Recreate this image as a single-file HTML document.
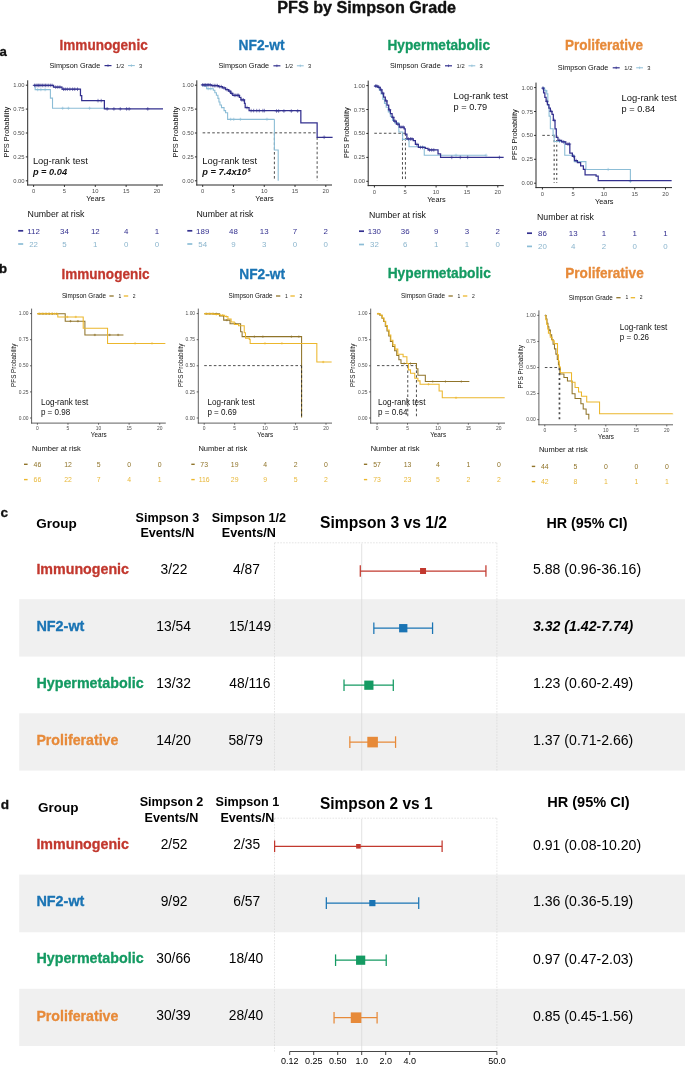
<!DOCTYPE html>
<html lang="en"><head><meta charset="utf-8"><title>PFS by Simpson Grade</title>
<style>
html,body{margin:0;padding:0;background:#fff;}
body{width:685px;height:1065px;overflow:hidden;}
svg{display:block;font-family:"Liberation Sans",Arial,Helvetica,sans-serif;}
</style></head><body>
<svg width="685" height="1065" viewBox="0 0 685 1065">
<rect width="685" height="1065" fill="#ffffff"/>
<text x="277.30" y="13.20" font-size="16.00" fill="#111" font-weight="bold" stroke="#111" stroke-width="0.35" stroke-linejoin="round" textLength="178.70" lengthAdjust="spacingAndGlyphs">PFS by Simpson Grade</text>
<text x="-0.60" y="55.60" font-size="13.20" fill="#111" font-weight="bold" stroke="#111" stroke-width="0.30" stroke-linejoin="round">a</text>
<text x="-0.90" y="272.80" font-size="13.20" fill="#111" font-weight="bold" stroke="#111" stroke-width="0.30" stroke-linejoin="round">b</text>
<text x="0.40" y="517.30" font-size="13.60" fill="#111" font-weight="bold" stroke="#111" stroke-width="0.30" stroke-linejoin="round">c</text>
<text x="0.70" y="809.00" font-size="13.60" fill="#111" font-weight="bold" stroke="#111" stroke-width="0.30" stroke-linejoin="round">d</text>
<text x="59.50" y="49.68" font-size="14.00" fill="#c2382e" font-weight="bold" stroke="#c2382e" stroke-width="0.30" stroke-linejoin="round" textLength="88.20" lengthAdjust="spacingAndGlyphs">Immunogenic</text>
<text x="238.50" y="49.68" font-size="14.00" fill="#1a74b4" font-weight="bold" stroke="#1a74b4" stroke-width="0.30" stroke-linejoin="round" textLength="46.00" lengthAdjust="spacingAndGlyphs">NF2-wt</text>
<text x="387.50" y="49.68" font-size="14.00" fill="#149a62" font-weight="bold" stroke="#149a62" stroke-width="0.30" stroke-linejoin="round" textLength="102.50" lengthAdjust="spacingAndGlyphs">Hypermetabolic</text>
<text x="565.00" y="49.68" font-size="14.00" fill="#e78a39" font-weight="bold" stroke="#e78a39" stroke-width="0.30" stroke-linejoin="round" textLength="78.00" lengthAdjust="spacingAndGlyphs">Proliferative</text>
<line x1="27.70" y1="80.30" x2="27.70" y2="185.50" stroke="#2b2b2b" stroke-width="1.00"/>
<line x1="27.20" y1="185.00" x2="163.00" y2="185.00" stroke="#2b2b2b" stroke-width="1.00"/>
<line x1="25.80" y1="85.20" x2="27.70" y2="85.20" stroke="#2b2b2b" stroke-width="1.00"/>
<text x="24.60" y="87.22" font-size="5.85" fill="#4d4d4d" text-anchor="end">1.00</text>
<line x1="25.80" y1="109.10" x2="27.70" y2="109.10" stroke="#2b2b2b" stroke-width="1.00"/>
<text x="24.60" y="111.12" font-size="5.85" fill="#4d4d4d" text-anchor="end">0.75</text>
<line x1="25.80" y1="133.00" x2="27.70" y2="133.00" stroke="#2b2b2b" stroke-width="1.00"/>
<text x="24.60" y="135.02" font-size="5.85" fill="#4d4d4d" text-anchor="end">0.50</text>
<line x1="25.80" y1="156.90" x2="27.70" y2="156.90" stroke="#2b2b2b" stroke-width="1.00"/>
<text x="24.60" y="158.92" font-size="5.85" fill="#4d4d4d" text-anchor="end">0.25</text>
<line x1="25.80" y1="180.80" x2="27.70" y2="180.80" stroke="#2b2b2b" stroke-width="1.00"/>
<text x="24.60" y="182.82" font-size="5.85" fill="#4d4d4d" text-anchor="end">0.00</text>
<line x1="33.60" y1="185.00" x2="33.60" y2="186.90" stroke="#2b2b2b" stroke-width="1.00"/>
<text x="33.60" y="193.22" font-size="5.85" fill="#4d4d4d" text-anchor="middle">0</text>
<line x1="64.45" y1="185.00" x2="64.45" y2="186.90" stroke="#2b2b2b" stroke-width="1.00"/>
<text x="64.45" y="193.22" font-size="5.85" fill="#4d4d4d" text-anchor="middle">5</text>
<line x1="95.30" y1="185.00" x2="95.30" y2="186.90" stroke="#2b2b2b" stroke-width="1.00"/>
<text x="95.30" y="193.22" font-size="5.85" fill="#4d4d4d" text-anchor="middle">10</text>
<line x1="126.15" y1="185.00" x2="126.15" y2="186.90" stroke="#2b2b2b" stroke-width="1.00"/>
<text x="126.15" y="193.22" font-size="5.85" fill="#4d4d4d" text-anchor="middle">15</text>
<line x1="157.00" y1="185.00" x2="157.00" y2="186.90" stroke="#2b2b2b" stroke-width="1.00"/>
<text x="157.00" y="193.22" font-size="5.85" fill="#4d4d4d" text-anchor="middle">20</text>
<text x="95.60" y="200.94" font-size="7.35" fill="#111" text-anchor="middle">Years</text>
<text transform="translate(8.54 132.20) rotate(-90)" font-size="7.35" fill="#111" text-anchor="middle">PFS Probability</text>
<line x1="196.80" y1="80.30" x2="196.80" y2="185.50" stroke="#2b2b2b" stroke-width="1.00"/>
<line x1="196.30" y1="185.00" x2="332.00" y2="185.00" stroke="#2b2b2b" stroke-width="1.00"/>
<line x1="194.90" y1="85.20" x2="196.80" y2="85.20" stroke="#2b2b2b" stroke-width="1.00"/>
<text x="193.70" y="87.22" font-size="5.85" fill="#4d4d4d" text-anchor="end">1.00</text>
<line x1="194.90" y1="109.10" x2="196.80" y2="109.10" stroke="#2b2b2b" stroke-width="1.00"/>
<text x="193.70" y="111.12" font-size="5.85" fill="#4d4d4d" text-anchor="end">0.75</text>
<line x1="194.90" y1="133.00" x2="196.80" y2="133.00" stroke="#2b2b2b" stroke-width="1.00"/>
<text x="193.70" y="135.02" font-size="5.85" fill="#4d4d4d" text-anchor="end">0.50</text>
<line x1="194.90" y1="156.90" x2="196.80" y2="156.90" stroke="#2b2b2b" stroke-width="1.00"/>
<text x="193.70" y="158.92" font-size="5.85" fill="#4d4d4d" text-anchor="end">0.25</text>
<line x1="194.90" y1="180.80" x2="196.80" y2="180.80" stroke="#2b2b2b" stroke-width="1.00"/>
<text x="193.70" y="182.82" font-size="5.85" fill="#4d4d4d" text-anchor="end">0.00</text>
<line x1="202.70" y1="185.00" x2="202.70" y2="186.90" stroke="#2b2b2b" stroke-width="1.00"/>
<text x="202.70" y="193.22" font-size="5.85" fill="#4d4d4d" text-anchor="middle">0</text>
<line x1="233.47" y1="185.00" x2="233.47" y2="186.90" stroke="#2b2b2b" stroke-width="1.00"/>
<text x="233.47" y="193.22" font-size="5.85" fill="#4d4d4d" text-anchor="middle">5</text>
<line x1="264.25" y1="185.00" x2="264.25" y2="186.90" stroke="#2b2b2b" stroke-width="1.00"/>
<text x="264.25" y="193.22" font-size="5.85" fill="#4d4d4d" text-anchor="middle">10</text>
<line x1="295.02" y1="185.00" x2="295.02" y2="186.90" stroke="#2b2b2b" stroke-width="1.00"/>
<text x="295.02" y="193.22" font-size="5.85" fill="#4d4d4d" text-anchor="middle">15</text>
<line x1="325.80" y1="185.00" x2="325.80" y2="186.90" stroke="#2b2b2b" stroke-width="1.00"/>
<text x="325.80" y="193.22" font-size="5.85" fill="#4d4d4d" text-anchor="middle">20</text>
<text x="264.55" y="200.94" font-size="7.35" fill="#111" text-anchor="middle">Years</text>
<text transform="translate(177.64 132.20) rotate(-90)" font-size="7.35" fill="#111" text-anchor="middle">PFS Probability</text>
<line x1="368.20" y1="80.60" x2="368.20" y2="186.10" stroke="#2b2b2b" stroke-width="1.00"/>
<line x1="367.70" y1="185.60" x2="503.80" y2="185.60" stroke="#2b2b2b" stroke-width="1.00"/>
<line x1="366.30" y1="85.60" x2="368.20" y2="85.60" stroke="#2b2b2b" stroke-width="1.00"/>
<text x="365.10" y="87.62" font-size="5.85" fill="#4d4d4d" text-anchor="end">1.00</text>
<line x1="366.30" y1="109.53" x2="368.20" y2="109.53" stroke="#2b2b2b" stroke-width="1.00"/>
<text x="365.10" y="111.54" font-size="5.85" fill="#4d4d4d" text-anchor="end">0.75</text>
<line x1="366.30" y1="133.45" x2="368.20" y2="133.45" stroke="#2b2b2b" stroke-width="1.00"/>
<text x="365.10" y="135.47" font-size="5.85" fill="#4d4d4d" text-anchor="end">0.50</text>
<line x1="366.30" y1="157.38" x2="368.20" y2="157.38" stroke="#2b2b2b" stroke-width="1.00"/>
<text x="365.10" y="159.39" font-size="5.85" fill="#4d4d4d" text-anchor="end">0.25</text>
<line x1="366.30" y1="181.30" x2="368.20" y2="181.30" stroke="#2b2b2b" stroke-width="1.00"/>
<text x="365.10" y="183.32" font-size="5.85" fill="#4d4d4d" text-anchor="end">0.00</text>
<line x1="374.40" y1="185.60" x2="374.40" y2="187.50" stroke="#2b2b2b" stroke-width="1.00"/>
<text x="374.40" y="193.82" font-size="5.85" fill="#4d4d4d" text-anchor="middle">0</text>
<line x1="405.25" y1="185.60" x2="405.25" y2="187.50" stroke="#2b2b2b" stroke-width="1.00"/>
<text x="405.25" y="193.82" font-size="5.85" fill="#4d4d4d" text-anchor="middle">5</text>
<line x1="436.10" y1="185.60" x2="436.10" y2="187.50" stroke="#2b2b2b" stroke-width="1.00"/>
<text x="436.10" y="193.82" font-size="5.85" fill="#4d4d4d" text-anchor="middle">10</text>
<line x1="466.95" y1="185.60" x2="466.95" y2="187.50" stroke="#2b2b2b" stroke-width="1.00"/>
<text x="466.95" y="193.82" font-size="5.85" fill="#4d4d4d" text-anchor="middle">15</text>
<line x1="497.80" y1="185.60" x2="497.80" y2="187.50" stroke="#2b2b2b" stroke-width="1.00"/>
<text x="497.80" y="193.82" font-size="5.85" fill="#4d4d4d" text-anchor="middle">20</text>
<text x="436.40" y="201.54" font-size="7.35" fill="#111" text-anchor="middle">Years</text>
<text transform="translate(349.04 132.65) rotate(-90)" font-size="7.35" fill="#111" text-anchor="middle">PFS Probability</text>
<line x1="536.00" y1="82.60" x2="536.00" y2="188.10" stroke="#2b2b2b" stroke-width="1.00"/>
<line x1="535.50" y1="187.60" x2="672.00" y2="187.60" stroke="#2b2b2b" stroke-width="1.00"/>
<line x1="534.10" y1="87.60" x2="536.00" y2="87.60" stroke="#2b2b2b" stroke-width="1.00"/>
<text x="532.90" y="89.62" font-size="5.85" fill="#4d4d4d" text-anchor="end">1.00</text>
<line x1="534.10" y1="111.50" x2="536.00" y2="111.50" stroke="#2b2b2b" stroke-width="1.00"/>
<text x="532.90" y="113.52" font-size="5.85" fill="#4d4d4d" text-anchor="end">0.75</text>
<line x1="534.10" y1="135.40" x2="536.00" y2="135.40" stroke="#2b2b2b" stroke-width="1.00"/>
<text x="532.90" y="137.42" font-size="5.85" fill="#4d4d4d" text-anchor="end">0.50</text>
<line x1="534.10" y1="159.30" x2="536.00" y2="159.30" stroke="#2b2b2b" stroke-width="1.00"/>
<text x="532.90" y="161.32" font-size="5.85" fill="#4d4d4d" text-anchor="end">0.25</text>
<line x1="534.10" y1="183.20" x2="536.00" y2="183.20" stroke="#2b2b2b" stroke-width="1.00"/>
<text x="532.90" y="185.22" font-size="5.85" fill="#4d4d4d" text-anchor="end">0.00</text>
<line x1="542.40" y1="187.60" x2="542.40" y2="189.50" stroke="#2b2b2b" stroke-width="1.00"/>
<text x="542.40" y="195.82" font-size="5.85" fill="#4d4d4d" text-anchor="middle">0</text>
<line x1="573.17" y1="187.60" x2="573.17" y2="189.50" stroke="#2b2b2b" stroke-width="1.00"/>
<text x="573.17" y="195.82" font-size="5.85" fill="#4d4d4d" text-anchor="middle">5</text>
<line x1="603.95" y1="187.60" x2="603.95" y2="189.50" stroke="#2b2b2b" stroke-width="1.00"/>
<text x="603.95" y="195.82" font-size="5.85" fill="#4d4d4d" text-anchor="middle">10</text>
<line x1="634.73" y1="187.60" x2="634.73" y2="189.50" stroke="#2b2b2b" stroke-width="1.00"/>
<text x="634.73" y="195.82" font-size="5.85" fill="#4d4d4d" text-anchor="middle">15</text>
<line x1="665.50" y1="187.60" x2="665.50" y2="189.50" stroke="#2b2b2b" stroke-width="1.00"/>
<text x="665.50" y="195.82" font-size="5.85" fill="#4d4d4d" text-anchor="middle">20</text>
<text x="604.25" y="203.54" font-size="7.35" fill="#111" text-anchor="middle">Years</text>
<text transform="translate(516.84 134.60) rotate(-90)" font-size="7.35" fill="#111" text-anchor="middle">PFS Probability</text>
<text x="49.50" y="68.12" font-size="7.30" fill="#111">Simpson Grade</text>
<line x1="104.50" y1="65.60" x2="111.50" y2="65.60" stroke="#33308f" stroke-width="1.20"/>
<line x1="128.00" y1="65.60" x2="134.80" y2="65.60" stroke="#8cbdd6" stroke-width="1.00"/>
<line x1="108.00" y1="64.30" x2="108.00" y2="66.90" stroke="#33308f" stroke-width="0.70"/>
<line x1="131.40" y1="64.30" x2="131.40" y2="66.90" stroke="#8cbdd6" stroke-width="0.70"/>
<text x="116.10" y="67.60" font-size="5.80" fill="#222">1/2</text>
<text x="139.10" y="67.60" font-size="5.80" fill="#222">3</text>
<text x="218.40" y="68.32" font-size="7.30" fill="#111">Simpson Grade</text>
<line x1="273.40" y1="65.80" x2="280.40" y2="65.80" stroke="#33308f" stroke-width="1.20"/>
<line x1="296.90" y1="65.80" x2="303.70" y2="65.80" stroke="#8cbdd6" stroke-width="1.00"/>
<line x1="276.90" y1="64.50" x2="276.90" y2="67.10" stroke="#33308f" stroke-width="0.70"/>
<line x1="300.30" y1="64.50" x2="300.30" y2="67.10" stroke="#8cbdd6" stroke-width="0.70"/>
<text x="285.00" y="67.80" font-size="5.80" fill="#222">1/2</text>
<text x="308.00" y="67.80" font-size="5.80" fill="#222">3</text>
<text x="390.00" y="68.32" font-size="7.30" fill="#111">Simpson Grade</text>
<line x1="445.00" y1="65.80" x2="452.00" y2="65.80" stroke="#33308f" stroke-width="1.20"/>
<line x1="468.50" y1="65.80" x2="475.30" y2="65.80" stroke="#8cbdd6" stroke-width="1.00"/>
<line x1="448.50" y1="64.50" x2="448.50" y2="67.10" stroke="#33308f" stroke-width="0.70"/>
<line x1="471.90" y1="64.50" x2="471.90" y2="67.10" stroke="#8cbdd6" stroke-width="0.70"/>
<text x="456.60" y="67.80" font-size="5.80" fill="#222">1/2</text>
<text x="479.60" y="67.80" font-size="5.80" fill="#222">3</text>
<text x="557.70" y="70.32" font-size="7.30" fill="#111">Simpson Grade</text>
<line x1="612.70" y1="67.80" x2="619.70" y2="67.80" stroke="#33308f" stroke-width="1.20"/>
<line x1="636.20" y1="67.80" x2="643.00" y2="67.80" stroke="#8cbdd6" stroke-width="1.00"/>
<line x1="616.20" y1="66.50" x2="616.20" y2="69.10" stroke="#33308f" stroke-width="0.70"/>
<line x1="639.60" y1="66.50" x2="639.60" y2="69.10" stroke="#8cbdd6" stroke-width="0.70"/>
<text x="624.30" y="69.80" font-size="5.80" fill="#222">1/2</text>
<text x="647.30" y="69.80" font-size="5.80" fill="#222">3</text>
<path d="M33.47 85.41H35.16V89.64H50.40V98.11H52.52V108.27H108.62" fill="none" stroke="#8cbdd6" stroke-width="1.10" stroke-linejoin="miter"/>
<path d="M37.70 88.04V91.24M36.10 89.64H39.30M40.88 88.04V91.24M39.28 89.64H42.48M45.11 88.04V91.24M43.51 89.64H46.71M62.68 106.67V109.87M61.08 108.27H64.28M68.40 106.67V109.87M66.80 108.27H70.00M89.56 106.67V109.87M87.96 108.27H91.16" fill="none" stroke="#8cbdd6" stroke-width="0.6"/>
<path d="M33.47 85.41H53.58V87.10H62.04V89.22H80.46V95.57H81.73V100.65H104.38V108.91H163.02" fill="none" stroke="#33308f" stroke-width="1.25" stroke-linejoin="miter"/>
<path d="M34.53 83.61V87.21M32.73 85.41H36.33M36.01 83.61V87.21M34.21 85.41H37.81M37.28 83.61V87.21M35.48 85.41H39.08M38.55 83.61V87.21M36.75 85.41H40.35M39.82 83.61V87.21M38.02 85.41H41.62M41.09 83.61V87.21M39.29 85.41H42.89M42.57 83.61V87.21M40.77 85.41H44.37M44.05 83.61V87.21M42.25 85.41H45.85M45.53 83.61V87.21M43.73 85.41H47.33M47.02 83.61V87.21M45.22 85.41H48.82M48.71 83.61V87.21M46.91 85.41H50.51M50.40 83.61V87.21M48.60 85.41H52.20M52.10 83.61V87.21M50.30 85.41H53.90M55.69 85.30V88.90M53.89 87.10H57.49M57.81 85.30V88.90M56.01 87.10H59.61M59.93 85.30V88.90M58.13 87.10H61.73M63.53 87.42V91.02M61.73 89.22H65.33M65.22 87.42V91.02M63.42 89.22H67.02M67.34 87.42V91.02M65.54 89.22H69.14M69.88 87.42V91.02M68.08 89.22H71.68M72.63 87.42V91.02M70.83 89.22H74.43M74.75 87.42V91.02M72.95 89.22H76.55M77.50 87.42V91.02M75.70 89.22H79.30M98.03 98.85V102.45M96.23 100.65H99.83M101.21 98.85V102.45M99.41 100.65H103.01M107.13 107.11V110.71M105.33 108.91H108.93M113.91 107.11V110.71M112.11 108.91H115.71M120.26 107.11V110.71M118.46 108.91H122.06M126.61 107.11V110.71M124.81 108.91H128.41M129.15 107.11V110.71M127.35 108.91H130.95M147.78 107.11V110.71M145.98 108.91H149.58" fill="none" stroke="#33308f" stroke-width="0.6"/>
<text x="32.90" y="164.24" font-size="9.40" fill="#111" textLength="54.90" lengthAdjust="spacingAndGlyphs">Log-rank test</text>
<text x="32.90" y="175.04" font-size="9.40" fill="#111" font-weight="bold" font-style="italic" textLength="34.20" lengthAdjust="spacingAndGlyphs">p = 0.04</text>
<line x1="202.62" y1="132.83" x2="317.14" y2="132.83" stroke="#222" stroke-width="0.80" stroke-dasharray="2.6 2.2"/>
<line x1="274.38" y1="132.83" x2="274.38" y2="180.67" stroke="#222" stroke-width="0.80" stroke-dasharray="2.6 2.2"/>
<line x1="317.14" y1="137.27" x2="317.14" y2="180.67" stroke="#222" stroke-width="0.80" stroke-dasharray="2.6 2.2"/>
<path d="M201.58 84.90H204.13V86.13H206.68V88.68H213.32V90.21H214.85V92.77H216.39V95.32H217.92V98.39H218.94V101.96H219.96V105.03H221.49V107.58H224.05V110.64H225.58V112.69H227.62V119.33H274.38V119.28V149.97H278.19V180.67" fill="none" stroke="#8cbdd6" stroke-width="1.10" stroke-linejoin="miter"/>
<path d="M208.21 87.08V90.28M206.61 88.68H209.81M210.77 87.08V90.28M209.17 88.68H212.37M230.69 117.73V120.93M229.09 119.33H232.29M233.75 117.73V120.93M232.15 119.33H235.35M240.39 117.73V120.93M238.79 119.33H241.99M266.97 117.68V120.88M265.37 119.28H268.57" fill="none" stroke="#8cbdd6" stroke-width="0.6"/>
<path d="M201.58 84.90H211.28V85.62H218.43V86.64H222.51V87.97H225.58V89.70H228.64V91.24H230.69V93.28H232.73V95.32H239.37V97.36H240.90V99.92H244.48V103.49H245.19V107.58H249.07V110.64H300.84V111.02V122.88H317.14V137.27H332.60" fill="none" stroke="#33308f" stroke-width="1.25" stroke-linejoin="miter"/>
<path d="M202.60 83.10V86.70M200.80 84.90H204.40M204.13 83.10V86.70M202.33 84.90H205.93M205.66 83.10V86.70M203.86 84.90H207.46M207.19 83.10V86.70M205.39 84.90H208.99M208.73 83.10V86.70M206.93 84.90H210.53M210.26 83.10V86.70M208.46 84.90H212.06M212.81 83.82V87.42M211.01 85.62H214.61M214.34 83.82V87.42M212.54 85.62H216.14M215.88 83.82V87.42M214.08 85.62H217.68M217.41 83.82V87.42M215.61 85.62H219.21M219.65 84.84V88.44M217.85 86.64H221.45M221.29 84.84V88.44M219.49 86.64H223.09M224.05 86.17V89.77M222.25 87.97H225.85M227.11 87.90V91.50M225.31 89.70H228.91M229.66 89.44V93.04M227.86 91.24H231.46M231.71 91.48V95.08M229.91 93.28H233.51M234.26 93.52V97.12M232.46 95.32H236.06M235.79 93.52V97.12M233.99 95.32H237.59M237.33 93.52V97.12M235.53 95.32H239.13M238.65 93.52V97.12M236.85 95.32H240.45M241.92 98.12V101.72M240.12 99.92H243.72M243.45 98.12V101.72M241.65 99.92H245.25M247.03 105.78V109.38M245.23 107.58H248.83M251.12 108.84V112.44M249.32 110.64H252.92M253.67 108.84V112.44M251.87 110.64H255.47M256.73 108.84V112.44M254.93 110.64H258.53M259.29 108.84V112.44M257.49 110.64H261.09M262.86 108.84V112.44M261.06 110.64H264.66M264.39 108.84V112.44M262.59 110.64H266.19M276.50 109.22V112.82M274.70 111.02H278.30M278.62 109.22V112.82M276.82 111.02H280.42M283.91 109.22V112.82M282.11 111.02H285.71M291.32 109.22V112.82M289.52 111.02H293.12M297.67 109.22V112.82M295.87 111.02H299.47M324.13 135.47V139.07M322.33 137.27H325.93" fill="none" stroke="#33308f" stroke-width="0.6"/>
<text x="202.20" y="164.24" font-size="9.40" fill="#111" textLength="54.90" lengthAdjust="spacingAndGlyphs">Log-rank test</text>
<text x="202.20" y="175.21" font-size="9.30" fill="#111" font-weight="bold" font-style="italic">p = 7.4x10</text>
<text x="246.03" y="171.60" font-size="5.00" fill="#111" font-weight="bold" font-style="italic">-5</text>
<line x1="374.31" y1="133.25" x2="405.22" y2="133.25" stroke="#222" stroke-width="0.80" stroke-dasharray="2.6 2.2"/>
<line x1="402.47" y1="133.25" x2="402.47" y2="181.09" stroke="#222" stroke-width="0.80" stroke-dasharray="2.6 2.2"/>
<line x1="405.43" y1="133.25" x2="405.43" y2="181.09" stroke="#222" stroke-width="0.80" stroke-dasharray="2.6 2.2"/>
<path d="M374.31 86.04H377.28V87.53H379.39V90.28H381.09V93.88H382.78V99.17H384.48V103.40H386.17V107.21H388.29V111.87H390.40V116.53H392.52V120.34H394.64V122.88H398.87V131.98H402.68V139.39H409.03V146.80H424.27V155.27H486.08" fill="none" stroke="#8cbdd6" stroke-width="1.10" stroke-linejoin="miter"/>
<path d="M456.02 153.67V156.87M454.42 155.27H457.62M486.08 153.67V156.87M484.48 155.27H487.68" fill="none" stroke="#8cbdd6" stroke-width="0.6"/>
<path d="M374.31 86.04H378.12V87.31H380.24V89.85H381.93V93.24H383.63V97.05H385.32V100.86H387.02V105.10H388.71V109.75H390.40V113.56H392.10V117.37H393.79V121.18H396.33V124.15H399.29V127.11H404.16V128.80H405.22V134.10H406.91V138.97H413.26V140.66H415.38V144.47H418.34V147.43H425.33V148.49H428.08V149.97H438.03V153.78H440.57V157.38H503.65" fill="none" stroke="#33308f" stroke-width="1.25" stroke-linejoin="miter"/>
<path d="M375.58 84.24V87.84M373.78 86.04H377.38M376.85 84.24V87.84M375.05 86.04H378.65M378.97 85.51V89.11M377.17 87.31H380.77M381.09 88.05V91.65M379.29 89.85H382.89M382.78 91.44V95.04M380.98 93.24H384.58M386.17 99.06V102.66M384.37 100.86H387.97M389.56 107.95V111.55M387.76 109.75H391.36M392.94 115.57V119.17M391.14 117.37H394.74M395.06 119.38V122.98M393.26 121.18H396.86M397.81 122.35V125.95M396.01 124.15H399.61M400.99 125.31V128.91M399.19 127.11H402.79M403.10 125.31V128.91M401.30 127.11H404.90M408.40 137.17V140.77M406.60 138.97H410.20M410.51 137.17V140.77M408.71 138.97H412.31M411.99 137.17V140.77M410.19 138.97H413.79M416.86 142.67V146.27M415.06 144.47H418.66M420.46 145.63V149.23M418.66 147.43H422.26M422.58 145.63V149.23M420.78 147.43H424.38M429.56 148.17V151.77M427.76 149.97H431.36M431.68 148.17V151.77M429.88 149.97H433.48M433.80 148.17V151.77M432.00 149.97H435.60M451.79 155.58V159.18M449.99 157.38H453.59M460.26 155.58V159.18M458.46 157.38H462.06M467.67 155.58V159.18M465.87 157.38H469.47M499.42 155.58V159.18M497.62 157.38H501.22" fill="none" stroke="#33308f" stroke-width="0.6"/>
<text x="453.60" y="98.64" font-size="9.40" fill="#111" textLength="54.60" lengthAdjust="spacingAndGlyphs">Log-rank test</text>
<text x="453.60" y="109.84" font-size="9.40" fill="#111" textLength="33.60" lengthAdjust="spacingAndGlyphs">p = 0.79</text>
<line x1="542.31" y1="135.37" x2="555.23" y2="135.37" stroke="#222" stroke-width="0.80" stroke-dasharray="2.6 2.2"/>
<line x1="554.17" y1="135.37" x2="554.17" y2="183.00" stroke="#555" stroke-width="1.20" stroke-dasharray="2.1 2.6"/>
<line x1="556.71" y1="135.37" x2="556.71" y2="183.00" stroke="#555" stroke-width="1.20" stroke-dasharray="2.1 2.6"/>
<path d="M542.31 88.16H544.64V90.70H546.76V93.88H547.82V105.52H549.09V116.10H550.36V128.80H553.11V135.15H554.17V141.51H564.75V155.27H574.28V161.62H585.92V169.45H630.38V182.15" fill="none" stroke="#8cbdd6" stroke-width="1.10" stroke-linejoin="miter"/>
<path d="M543.16 86.56V89.76M541.56 88.16H544.76M545.70 89.10V92.30M544.10 90.70H547.30M559.46 139.91V143.11M557.86 141.51H561.06M562.21 139.91V143.11M560.61 141.51H563.81M608.15 167.85V171.05M606.55 169.45H609.75M630.38 179.70V182.90M628.78 181.30H631.98" fill="none" stroke="#8cbdd6" stroke-width="0.6"/>
<path d="M542.31 88.16H543.58V92.82H544.85V97.48H546.12V101.29H547.39V104.67H548.88V108.06H550.36V111.45H552.05V114.41H553.32V120.34H555.02V128.80H556.29V137.27H557.98V140.45H561.58V141.93H565.81V144.05H569.83V153.15H572.37V156.32H574.49V160.56H577.45V162.67H580.63V165.85H583.38V169.45H585.07V174.95H596.08V176.22H598.20V180.67H671.65" fill="none" stroke="#33308f" stroke-width="1.25" stroke-linejoin="miter"/>
<path d="M542.95 86.36V89.96M541.15 88.16H544.75M546.97 99.49V103.09M545.17 101.29H548.77M551.20 109.65V113.25M549.40 111.45H553.00M554.17 118.54V122.14M552.37 120.34H555.97M559.67 138.65V142.25M557.87 140.45H561.47M563.69 140.13V143.73M561.89 141.93H565.49M567.93 142.25V145.85M566.13 144.05H569.73M569.41 142.25V145.85M567.61 144.05H571.21M573.64 154.52V158.12M571.84 156.32H575.44M576.18 158.76V162.36M574.38 160.56H577.98" fill="none" stroke="#33308f" stroke-width="0.6"/>
<text x="621.60" y="100.74" font-size="9.40" fill="#111" textLength="54.90" lengthAdjust="spacingAndGlyphs">Log-rank test</text>
<text x="621.60" y="111.94" font-size="9.40" fill="#111" textLength="33.60" lengthAdjust="spacingAndGlyphs">p = 0.84</text>
<text x="27.60" y="217.22" font-size="8.75" fill="#111">Number at risk</text>
<line x1="18.20" y1="230.80" x2="23.20" y2="230.80" stroke="#33308f" stroke-width="1.70"/>
<text x="33.60" y="233.53" font-size="7.90" fill="#33308f" text-anchor="middle">112</text>
<text x="64.45" y="233.53" font-size="7.90" fill="#33308f" text-anchor="middle">34</text>
<text x="95.30" y="233.53" font-size="7.90" fill="#33308f" text-anchor="middle">12</text>
<text x="126.15" y="233.53" font-size="7.90" fill="#33308f" text-anchor="middle">4</text>
<text x="157.00" y="233.53" font-size="7.90" fill="#33308f" text-anchor="middle">1</text>
<line x1="18.20" y1="244.00" x2="23.20" y2="244.00" stroke="#8cbdd6" stroke-width="1.70"/>
<text x="33.60" y="246.73" font-size="7.90" fill="#8bb5cd" text-anchor="middle">22</text>
<text x="64.45" y="246.73" font-size="7.90" fill="#8bb5cd" text-anchor="middle">5</text>
<text x="95.30" y="246.73" font-size="7.90" fill="#8bb5cd" text-anchor="middle">1</text>
<text x="126.15" y="246.73" font-size="7.90" fill="#8bb5cd" text-anchor="middle">0</text>
<text x="157.00" y="246.73" font-size="7.90" fill="#8bb5cd" text-anchor="middle">0</text>
<text x="196.50" y="217.22" font-size="8.75" fill="#111">Number at risk</text>
<line x1="187.30" y1="230.80" x2="192.30" y2="230.80" stroke="#33308f" stroke-width="1.70"/>
<text x="202.70" y="233.53" font-size="7.90" fill="#33308f" text-anchor="middle">189</text>
<text x="233.47" y="233.53" font-size="7.90" fill="#33308f" text-anchor="middle">48</text>
<text x="264.25" y="233.53" font-size="7.90" fill="#33308f" text-anchor="middle">13</text>
<text x="295.02" y="233.53" font-size="7.90" fill="#33308f" text-anchor="middle">7</text>
<text x="325.80" y="233.53" font-size="7.90" fill="#33308f" text-anchor="middle">2</text>
<line x1="187.30" y1="244.00" x2="192.30" y2="244.00" stroke="#8cbdd6" stroke-width="1.70"/>
<text x="202.70" y="246.73" font-size="7.90" fill="#8bb5cd" text-anchor="middle">54</text>
<text x="233.47" y="246.73" font-size="7.90" fill="#8bb5cd" text-anchor="middle">9</text>
<text x="264.25" y="246.73" font-size="7.90" fill="#8bb5cd" text-anchor="middle">3</text>
<text x="295.02" y="246.73" font-size="7.90" fill="#8bb5cd" text-anchor="middle">0</text>
<text x="325.80" y="246.73" font-size="7.90" fill="#8bb5cd" text-anchor="middle">0</text>
<text x="369.00" y="217.72" font-size="8.75" fill="#111">Number at risk</text>
<line x1="359.00" y1="231.20" x2="364.00" y2="231.20" stroke="#33308f" stroke-width="1.70"/>
<text x="374.40" y="233.93" font-size="7.90" fill="#33308f" text-anchor="middle">130</text>
<text x="405.25" y="233.93" font-size="7.90" fill="#33308f" text-anchor="middle">36</text>
<text x="436.10" y="233.93" font-size="7.90" fill="#33308f" text-anchor="middle">9</text>
<text x="466.95" y="233.93" font-size="7.90" fill="#33308f" text-anchor="middle">3</text>
<text x="497.80" y="233.93" font-size="7.90" fill="#33308f" text-anchor="middle">2</text>
<line x1="359.00" y1="244.50" x2="364.00" y2="244.50" stroke="#8cbdd6" stroke-width="1.70"/>
<text x="374.40" y="247.23" font-size="7.90" fill="#8bb5cd" text-anchor="middle">32</text>
<text x="405.25" y="247.23" font-size="7.90" fill="#8bb5cd" text-anchor="middle">6</text>
<text x="436.10" y="247.23" font-size="7.90" fill="#8bb5cd" text-anchor="middle">1</text>
<text x="466.95" y="247.23" font-size="7.90" fill="#8bb5cd" text-anchor="middle">1</text>
<text x="497.80" y="247.23" font-size="7.90" fill="#8bb5cd" text-anchor="middle">0</text>
<text x="537.00" y="219.92" font-size="8.75" fill="#111">Number at risk</text>
<line x1="527.00" y1="233.20" x2="532.00" y2="233.20" stroke="#33308f" stroke-width="1.70"/>
<text x="542.40" y="235.93" font-size="7.90" fill="#33308f" text-anchor="middle">86</text>
<text x="573.17" y="235.93" font-size="7.90" fill="#33308f" text-anchor="middle">13</text>
<text x="603.95" y="235.93" font-size="7.90" fill="#33308f" text-anchor="middle">1</text>
<text x="634.73" y="235.93" font-size="7.90" fill="#33308f" text-anchor="middle">1</text>
<text x="665.50" y="235.93" font-size="7.90" fill="#33308f" text-anchor="middle">1</text>
<line x1="527.00" y1="246.40" x2="532.00" y2="246.40" stroke="#8cbdd6" stroke-width="1.70"/>
<text x="542.40" y="249.13" font-size="7.90" fill="#8bb5cd" text-anchor="middle">20</text>
<text x="573.17" y="249.13" font-size="7.90" fill="#8bb5cd" text-anchor="middle">4</text>
<text x="603.95" y="249.13" font-size="7.90" fill="#8bb5cd" text-anchor="middle">2</text>
<text x="634.73" y="249.13" font-size="7.90" fill="#8bb5cd" text-anchor="middle">0</text>
<text x="665.50" y="249.13" font-size="7.90" fill="#8bb5cd" text-anchor="middle">0</text>
<text x="61.50" y="278.78" font-size="14.00" fill="#c2382e" font-weight="bold" stroke="#c2382e" stroke-width="0.30" stroke-linejoin="round" textLength="88.00" lengthAdjust="spacingAndGlyphs">Immunogenic</text>
<text x="239.30" y="278.78" font-size="14.00" fill="#1a74b4" font-weight="bold" stroke="#1a74b4" stroke-width="0.30" stroke-linejoin="round" textLength="45.70" lengthAdjust="spacingAndGlyphs">NF2-wt</text>
<text x="387.70" y="277.73" font-size="14.00" fill="#149a62" font-weight="bold" stroke="#149a62" stroke-width="0.30" stroke-linejoin="round" textLength="103.10" lengthAdjust="spacingAndGlyphs">Hypermetabolic</text>
<text x="565.30" y="277.73" font-size="14.00" fill="#e78a39" font-weight="bold" stroke="#e78a39" stroke-width="0.30" stroke-linejoin="round" textLength="78.40" lengthAdjust="spacingAndGlyphs">Proliferative</text>
<line x1="31.60" y1="308.60" x2="31.60" y2="423.53" stroke="#454545" stroke-width="0.85"/>
<line x1="31.18" y1="423.10" x2="165.80" y2="423.10" stroke="#454545" stroke-width="0.85"/>
<line x1="30.00" y1="313.60" x2="31.60" y2="313.60" stroke="#454545" stroke-width="0.85"/>
<text x="28.40" y="315.29" font-size="4.90" fill="#4d4d4d" text-anchor="end">1.00</text>
<line x1="30.00" y1="339.70" x2="31.60" y2="339.70" stroke="#454545" stroke-width="0.85"/>
<text x="28.40" y="341.39" font-size="4.90" fill="#4d4d4d" text-anchor="end">0.75</text>
<line x1="30.00" y1="365.80" x2="31.60" y2="365.80" stroke="#454545" stroke-width="0.85"/>
<text x="28.40" y="367.49" font-size="4.90" fill="#4d4d4d" text-anchor="end">0.50</text>
<line x1="30.00" y1="391.90" x2="31.60" y2="391.90" stroke="#454545" stroke-width="0.85"/>
<text x="28.40" y="393.59" font-size="4.90" fill="#4d4d4d" text-anchor="end">0.25</text>
<line x1="30.00" y1="418.00" x2="31.60" y2="418.00" stroke="#454545" stroke-width="0.85"/>
<text x="28.40" y="419.69" font-size="4.90" fill="#4d4d4d" text-anchor="end">0.00</text>
<line x1="37.40" y1="423.10" x2="37.40" y2="424.70" stroke="#454545" stroke-width="0.85"/>
<text x="37.40" y="429.99" font-size="4.90" fill="#4d4d4d" text-anchor="middle">0</text>
<line x1="67.97" y1="423.10" x2="67.97" y2="424.70" stroke="#454545" stroke-width="0.85"/>
<text x="67.97" y="429.99" font-size="4.90" fill="#4d4d4d" text-anchor="middle">5</text>
<line x1="98.55" y1="423.10" x2="98.55" y2="424.70" stroke="#454545" stroke-width="0.85"/>
<text x="98.55" y="429.99" font-size="4.90" fill="#4d4d4d" text-anchor="middle">10</text>
<line x1="129.12" y1="423.10" x2="129.12" y2="424.70" stroke="#454545" stroke-width="0.85"/>
<text x="129.12" y="429.99" font-size="4.90" fill="#4d4d4d" text-anchor="middle">15</text>
<line x1="159.70" y1="423.10" x2="159.70" y2="424.70" stroke="#454545" stroke-width="0.85"/>
<text x="159.70" y="429.99" font-size="4.90" fill="#4d4d4d" text-anchor="middle">20</text>
<text x="98.75" y="437.37" font-size="6.30" fill="#111" text-anchor="middle">Years</text>
<text transform="translate(15.97 365.20) rotate(-90)" font-size="6.30" fill="#111" text-anchor="middle">PFS Probability</text>
<line x1="198.30" y1="308.60" x2="198.30" y2="423.53" stroke="#454545" stroke-width="0.85"/>
<line x1="197.88" y1="423.10" x2="332.00" y2="423.10" stroke="#454545" stroke-width="0.85"/>
<line x1="196.70" y1="313.60" x2="198.30" y2="313.60" stroke="#454545" stroke-width="0.85"/>
<text x="195.10" y="315.29" font-size="4.90" fill="#4d4d4d" text-anchor="end">1.00</text>
<line x1="196.70" y1="339.70" x2="198.30" y2="339.70" stroke="#454545" stroke-width="0.85"/>
<text x="195.10" y="341.39" font-size="4.90" fill="#4d4d4d" text-anchor="end">0.75</text>
<line x1="196.70" y1="365.80" x2="198.30" y2="365.80" stroke="#454545" stroke-width="0.85"/>
<text x="195.10" y="367.49" font-size="4.90" fill="#4d4d4d" text-anchor="end">0.50</text>
<line x1="196.70" y1="391.90" x2="198.30" y2="391.90" stroke="#454545" stroke-width="0.85"/>
<text x="195.10" y="393.59" font-size="4.90" fill="#4d4d4d" text-anchor="end">0.25</text>
<line x1="196.70" y1="418.00" x2="198.30" y2="418.00" stroke="#454545" stroke-width="0.85"/>
<text x="195.10" y="419.69" font-size="4.90" fill="#4d4d4d" text-anchor="end">0.00</text>
<line x1="204.20" y1="423.10" x2="204.20" y2="424.70" stroke="#454545" stroke-width="0.85"/>
<text x="204.20" y="429.99" font-size="4.90" fill="#4d4d4d" text-anchor="middle">0</text>
<line x1="234.65" y1="423.10" x2="234.65" y2="424.70" stroke="#454545" stroke-width="0.85"/>
<text x="234.65" y="429.99" font-size="4.90" fill="#4d4d4d" text-anchor="middle">5</text>
<line x1="265.10" y1="423.10" x2="265.10" y2="424.70" stroke="#454545" stroke-width="0.85"/>
<text x="265.10" y="429.99" font-size="4.90" fill="#4d4d4d" text-anchor="middle">10</text>
<line x1="295.55" y1="423.10" x2="295.55" y2="424.70" stroke="#454545" stroke-width="0.85"/>
<text x="295.55" y="429.99" font-size="4.90" fill="#4d4d4d" text-anchor="middle">15</text>
<line x1="326.00" y1="423.10" x2="326.00" y2="424.70" stroke="#454545" stroke-width="0.85"/>
<text x="326.00" y="429.99" font-size="4.90" fill="#4d4d4d" text-anchor="middle">20</text>
<text x="265.30" y="437.37" font-size="6.30" fill="#111" text-anchor="middle">Years</text>
<text transform="translate(182.67 365.20) rotate(-90)" font-size="6.30" fill="#111" text-anchor="middle">PFS Probability</text>
<line x1="370.70" y1="308.60" x2="370.70" y2="423.53" stroke="#454545" stroke-width="0.85"/>
<line x1="370.27" y1="423.10" x2="505.00" y2="423.10" stroke="#454545" stroke-width="0.85"/>
<line x1="369.10" y1="313.60" x2="370.70" y2="313.60" stroke="#454545" stroke-width="0.85"/>
<text x="367.50" y="315.29" font-size="4.90" fill="#4d4d4d" text-anchor="end">1.00</text>
<line x1="369.10" y1="339.70" x2="370.70" y2="339.70" stroke="#454545" stroke-width="0.85"/>
<text x="367.50" y="341.39" font-size="4.90" fill="#4d4d4d" text-anchor="end">0.75</text>
<line x1="369.10" y1="365.80" x2="370.70" y2="365.80" stroke="#454545" stroke-width="0.85"/>
<text x="367.50" y="367.49" font-size="4.90" fill="#4d4d4d" text-anchor="end">0.50</text>
<line x1="369.10" y1="391.90" x2="370.70" y2="391.90" stroke="#454545" stroke-width="0.85"/>
<text x="367.50" y="393.59" font-size="4.90" fill="#4d4d4d" text-anchor="end">0.25</text>
<line x1="369.10" y1="418.00" x2="370.70" y2="418.00" stroke="#454545" stroke-width="0.85"/>
<text x="367.50" y="419.69" font-size="4.90" fill="#4d4d4d" text-anchor="end">0.00</text>
<line x1="377.10" y1="423.10" x2="377.10" y2="424.70" stroke="#454545" stroke-width="0.85"/>
<text x="377.10" y="429.99" font-size="4.90" fill="#4d4d4d" text-anchor="middle">0</text>
<line x1="407.53" y1="423.10" x2="407.53" y2="424.70" stroke="#454545" stroke-width="0.85"/>
<text x="407.53" y="429.99" font-size="4.90" fill="#4d4d4d" text-anchor="middle">5</text>
<line x1="437.95" y1="423.10" x2="437.95" y2="424.70" stroke="#454545" stroke-width="0.85"/>
<text x="437.95" y="429.99" font-size="4.90" fill="#4d4d4d" text-anchor="middle">10</text>
<line x1="468.38" y1="423.10" x2="468.38" y2="424.70" stroke="#454545" stroke-width="0.85"/>
<text x="468.38" y="429.99" font-size="4.90" fill="#4d4d4d" text-anchor="middle">15</text>
<line x1="498.80" y1="423.10" x2="498.80" y2="424.70" stroke="#454545" stroke-width="0.85"/>
<text x="498.80" y="429.99" font-size="4.90" fill="#4d4d4d" text-anchor="middle">20</text>
<text x="438.15" y="437.37" font-size="6.30" fill="#111" text-anchor="middle">Years</text>
<text transform="translate(355.07 365.20) rotate(-90)" font-size="6.30" fill="#111" text-anchor="middle">PFS Probability</text>
<line x1="538.90" y1="310.40" x2="538.90" y2="425.23" stroke="#454545" stroke-width="0.85"/>
<line x1="538.48" y1="424.80" x2="673.00" y2="424.80" stroke="#454545" stroke-width="0.85"/>
<line x1="537.30" y1="315.40" x2="538.90" y2="315.40" stroke="#454545" stroke-width="0.85"/>
<text x="535.70" y="317.09" font-size="4.90" fill="#4d4d4d" text-anchor="end">1.00</text>
<line x1="537.30" y1="341.45" x2="538.90" y2="341.45" stroke="#454545" stroke-width="0.85"/>
<text x="535.70" y="343.14" font-size="4.90" fill="#4d4d4d" text-anchor="end">0.75</text>
<line x1="537.30" y1="367.50" x2="538.90" y2="367.50" stroke="#454545" stroke-width="0.85"/>
<text x="535.70" y="369.19" font-size="4.90" fill="#4d4d4d" text-anchor="end">0.50</text>
<line x1="537.30" y1="393.55" x2="538.90" y2="393.55" stroke="#454545" stroke-width="0.85"/>
<text x="535.70" y="395.24" font-size="4.90" fill="#4d4d4d" text-anchor="end">0.25</text>
<line x1="537.30" y1="419.60" x2="538.90" y2="419.60" stroke="#454545" stroke-width="0.85"/>
<text x="535.70" y="421.29" font-size="4.90" fill="#4d4d4d" text-anchor="end">0.00</text>
<line x1="544.80" y1="424.80" x2="544.80" y2="426.40" stroke="#454545" stroke-width="0.85"/>
<text x="544.80" y="431.69" font-size="4.90" fill="#4d4d4d" text-anchor="middle">0</text>
<line x1="575.30" y1="424.80" x2="575.30" y2="426.40" stroke="#454545" stroke-width="0.85"/>
<text x="575.30" y="431.69" font-size="4.90" fill="#4d4d4d" text-anchor="middle">5</text>
<line x1="605.80" y1="424.80" x2="605.80" y2="426.40" stroke="#454545" stroke-width="0.85"/>
<text x="605.80" y="431.69" font-size="4.90" fill="#4d4d4d" text-anchor="middle">10</text>
<line x1="636.30" y1="424.80" x2="636.30" y2="426.40" stroke="#454545" stroke-width="0.85"/>
<text x="636.30" y="431.69" font-size="4.90" fill="#4d4d4d" text-anchor="middle">15</text>
<line x1="666.80" y1="424.80" x2="666.80" y2="426.40" stroke="#454545" stroke-width="0.85"/>
<text x="666.80" y="431.69" font-size="4.90" fill="#4d4d4d" text-anchor="middle">20</text>
<text x="606.00" y="439.07" font-size="6.30" fill="#111" text-anchor="middle">Years</text>
<text transform="translate(523.27 366.90) rotate(-90)" font-size="6.30" fill="#111" text-anchor="middle">PFS Probability</text>
<text x="61.90" y="298.19" font-size="6.35" fill="#111">Simpson Grade</text>
<line x1="109.40" y1="296.00" x2="113.70" y2="296.00" stroke="#90742a" stroke-width="1.30"/>
<line x1="123.80" y1="296.00" x2="128.20" y2="296.00" stroke="#ecb72c" stroke-width="1.30"/>
<text x="118.50" y="297.73" font-size="5.00" fill="#222">1</text>
<text x="132.80" y="297.73" font-size="5.00" fill="#222">2</text>
<text x="228.50" y="298.19" font-size="6.35" fill="#111">Simpson Grade</text>
<line x1="276.00" y1="296.00" x2="280.30" y2="296.00" stroke="#90742a" stroke-width="1.30"/>
<line x1="290.40" y1="296.00" x2="294.80" y2="296.00" stroke="#ecb72c" stroke-width="1.30"/>
<text x="285.10" y="297.73" font-size="5.00" fill="#222">1</text>
<text x="299.40" y="297.73" font-size="5.00" fill="#222">2</text>
<text x="401.00" y="298.19" font-size="6.35" fill="#111">Simpson Grade</text>
<line x1="448.50" y1="296.00" x2="452.80" y2="296.00" stroke="#90742a" stroke-width="1.30"/>
<line x1="462.90" y1="296.00" x2="467.30" y2="296.00" stroke="#ecb72c" stroke-width="1.30"/>
<text x="457.60" y="297.73" font-size="5.00" fill="#222">1</text>
<text x="471.90" y="297.73" font-size="5.00" fill="#222">2</text>
<text x="568.80" y="299.89" font-size="6.35" fill="#111">Simpson Grade</text>
<line x1="616.30" y1="297.70" x2="620.60" y2="297.70" stroke="#90742a" stroke-width="1.30"/>
<line x1="630.70" y1="297.70" x2="635.10" y2="297.70" stroke="#ecb72c" stroke-width="1.30"/>
<text x="625.40" y="299.43" font-size="5.00" fill="#222">1</text>
<text x="639.70" y="299.43" font-size="5.00" fill="#222">2</text>
<path d="M37.28 313.76H65.22V321.17H84.91V334.93H123.43" fill="none" stroke="#90742a" stroke-width="1.05" stroke-linejoin="miter"/>
<path d="M39.82 312.56V314.96M38.62 313.76H41.02M42.99 312.56V314.96M41.79 313.76H44.19M46.17 312.56V314.96M44.97 313.76H47.37M49.34 312.56V314.96M48.14 313.76H50.54M52.52 312.56V314.96M51.32 313.76H53.72M56.75 312.56V314.96M55.55 313.76H57.95M70.51 319.97V322.37M69.31 321.17H71.71M77.92 319.97V322.37M76.72 321.17H79.12M94.86 333.73V336.13M93.66 334.93H96.06M109.67 333.73V336.13M108.47 334.93H110.87M118.14 333.73V336.13M116.94 334.93H119.34" fill="none" stroke="#90742a" stroke-width="0.6"/>
<path d="M37.28 313.76H57.81V316.93H83.21V328.15H107.56V343.40H165.35" fill="none" stroke="#ecb72c" stroke-width="1.05" stroke-linejoin="miter"/>
<path d="M38.76 312.56V314.96M37.56 313.76H39.96M41.93 312.56V314.96M40.73 313.76H43.13M45.11 312.56V314.96M43.91 313.76H46.31M48.29 312.56V314.96M47.09 313.76H49.49M51.46 312.56V314.96M50.26 313.76H52.66M54.64 312.56V314.96M53.44 313.76H55.84M67.34 315.73V318.13M66.14 316.93H68.54M75.80 315.73V318.13M74.60 316.93H77.00M135.08 342.20V344.60M133.88 343.40H136.28M152.01 342.20V344.60M150.81 343.40H153.21" fill="none" stroke="#ecb72c" stroke-width="0.6"/>
<text x="40.90" y="405.06" font-size="8.30" fill="#111" textLength="47.30" lengthAdjust="spacingAndGlyphs">Log-rank test</text>
<text x="40.90" y="414.66" font-size="8.30" fill="#111" textLength="29.30" lengthAdjust="spacingAndGlyphs">p = 0.98</text>
<line x1="204.22" y1="365.62" x2="301.59" y2="365.62" stroke="#222" stroke-width="0.80" stroke-dasharray="2.6 2.2"/>
<path d="M204.22 313.76H219.46V315.88H223.69V320.11H230.04V323.71H240.63V331.75H242.11V336.62H301.59V417.49" fill="none" stroke="#90742a" stroke-width="1.05" stroke-linejoin="miter"/>
<path d="M206.76 312.56V314.96M205.56 313.76H207.96M209.93 312.56V314.96M208.73 313.76H211.13M213.11 312.56V314.96M211.91 313.76H214.31M216.29 312.56V314.96M215.09 313.76H217.49M226.87 318.91V321.31M225.67 320.11H228.07M235.34 322.51V324.91M234.14 323.71H236.54M254.39 335.42V337.82M253.19 336.62H255.59M262.86 335.42V337.82M261.66 336.62H264.06M291.43 335.42V337.82M290.23 336.62H292.63M298.84 335.42V337.82M297.64 336.62H300.04" fill="none" stroke="#90742a" stroke-width="0.6"/>
<path d="M204.22 313.76H214.17V314.39H220.10V315.24H224.75V316.51H227.93V319.05H231.10V322.02H234.28V324.56H238.51V325.83H244.23V332.81H245.50V338.10H249.31V339.37H250.15V343.40H316.84V362.02H331.65" fill="none" stroke="#ecb72c" stroke-width="1.05" stroke-linejoin="miter"/>
<path d="M205.70 312.56V314.96M204.50 313.76H206.90M208.88 312.56V314.96M207.68 313.76H210.08M212.05 312.56V314.96M210.85 313.76H213.25M216.29 313.19V315.59M215.09 314.39H217.49M222.64 314.04V316.44M221.44 315.24H223.84M226.45 315.31V317.71M225.25 316.51H227.65M264.97 342.20V344.60M263.77 343.40H266.17M281.91 342.20V344.60M280.71 343.40H283.11M323.19 360.82V363.22M321.99 362.02H324.39" fill="none" stroke="#ecb72c" stroke-width="0.6"/>
<line x1="301.59" y1="365.62" x2="301.59" y2="417.49" stroke="#222" stroke-width="0.80" stroke-dasharray="2.6 2.2"/>
<text x="207.40" y="405.06" font-size="8.30" fill="#111" textLength="47.30" lengthAdjust="spacingAndGlyphs">Log-rank test</text>
<text x="207.40" y="414.66" font-size="8.30" fill="#111" textLength="29.30" lengthAdjust="spacingAndGlyphs">p = 0.69</text>
<line x1="377.07" y1="365.62" x2="416.44" y2="365.62" stroke="#222" stroke-width="0.80" stroke-dasharray="2.6 2.2"/>
<line x1="407.76" y1="365.62" x2="407.76" y2="417.49" stroke="#222" stroke-width="0.80" stroke-dasharray="2.6 2.2"/>
<line x1="416.44" y1="365.62" x2="416.44" y2="417.49" stroke="#222" stroke-width="0.80" stroke-dasharray="2.6 2.2"/>
<path d="M377.07 313.76H379.82V315.24H381.93V318.20H383.63V321.59H385.32V326.25H387.02V330.91H388.71V335.99H390.40V341.49H392.52V346.57H394.64V350.80H396.75V355.46H398.87V359.70H400.99V363.51H416.44V368.80H417.92V375.15H425.33V381.50H469.36" fill="none" stroke="#90742a" stroke-width="1.05" stroke-linejoin="miter"/>
<path d="M404.16 362.31V364.71M402.96 363.51H405.36M410.51 362.31V364.71M409.31 363.51H411.71M432.74 380.30V382.70M431.54 381.50H433.94M445.44 380.30V382.70M444.24 381.50H446.64M461.32 380.30V382.70M460.12 381.50H462.52" fill="none" stroke="#90742a" stroke-width="0.6"/>
<path d="M377.07 313.76H380.24V315.24H382.36V317.99H384.05V321.17H385.75V325.40H387.44V330.06H389.13V334.93H390.83V340.22H392.94V344.88H395.06V349.11H397.81V354.19H403.10V356.73H406.91V363.51H408.40V369.86H410.51V373.24H414.75V378.32H417.92V380.86H420.04V384.25H439.09V391.02H442.27V397.80H504.71" fill="none" stroke="#ecb72c" stroke-width="1.05" stroke-linejoin="miter"/>
<path d="M378.12 312.56V314.96M376.92 313.76H379.32M428.51 383.05V385.45M427.31 384.25H429.71M456.02 396.60V399.00M454.82 397.80H457.22" fill="none" stroke="#ecb72c" stroke-width="0.6"/>
<text x="378.10" y="405.06" font-size="8.30" fill="#111" textLength="47.30" lengthAdjust="spacingAndGlyphs">Log-rank test</text>
<text x="378.10" y="414.66" font-size="8.30" fill="#111" textLength="29.30" lengthAdjust="spacingAndGlyphs">p = 0.64</text>
<line x1="544.85" y1="367.53" x2="559.46" y2="367.53" stroke="#222" stroke-width="0.80" stroke-dasharray="2.6 2.2"/>
<path d="M545.26 315.59H546.07V319.09H547.01V323.18H547.94V326.69H548.88V330.19H550.28V334.86H551.68V339.53H553.08V344.20H554.48V348.88H555.88V354.13H557.28V359.39H558.45V364.64H559.27V369.31H559.85V373.99H563.94V377.49H567.45V380.99H572.12V393.84H575.04V398.51H580.88V403.77H583.21V409.02H586.13V414.28H588.82V419.53" fill="none" stroke="#90742a" stroke-width="1.05" stroke-linejoin="miter"/>
<path d="M545.61 314.39V316.79M544.41 315.59H546.81M549.81 328.99V331.39M548.61 330.19H551.01" fill="none" stroke="#90742a" stroke-width="0.6"/>
<path d="M545.26 315.59H545.84V319.68H546.77V324.35H547.71V329.02H548.41V333.11H550.28V337.20H552.15V340.70H554.25V343.62H557.52V354.72H558.45V361.14H559.27V366.98H560.44V372.82H571.53V382.16H575.04V387.42H578.54V392.09H581.46V396.18H586.72V402.01H599.56V413.69H672.71V413.67" fill="none" stroke="#ecb72c" stroke-width="1.05" stroke-linejoin="miter"/>
<line x1="559.46" y1="368.16" x2="559.46" y2="419.39" stroke="#4a4a4a" stroke-width="1.70" stroke-dasharray="2.1 2.8"/>
<text x="619.80" y="329.96" font-size="8.30" fill="#111" textLength="47.50" lengthAdjust="spacingAndGlyphs">Log-rank test</text>
<text x="619.80" y="339.86" font-size="8.30" fill="#111" textLength="29.30" lengthAdjust="spacingAndGlyphs">p = 0.26</text>
<text x="31.90" y="450.79" font-size="7.50" fill="#111">Number at risk</text>
<line x1="24.00" y1="464.30" x2="27.60" y2="464.30" stroke="#90742a" stroke-width="1.40"/>
<text x="37.40" y="466.68" font-size="6.90" fill="#90742a" text-anchor="middle">46</text>
<text x="67.97" y="466.68" font-size="6.90" fill="#90742a" text-anchor="middle">12</text>
<text x="98.55" y="466.68" font-size="6.90" fill="#90742a" text-anchor="middle">5</text>
<text x="129.12" y="466.68" font-size="6.90" fill="#90742a" text-anchor="middle">0</text>
<text x="159.70" y="466.68" font-size="6.90" fill="#90742a" text-anchor="middle">0</text>
<line x1="24.00" y1="479.60" x2="27.60" y2="479.60" stroke="#ecb72c" stroke-width="1.40"/>
<text x="37.40" y="481.98" font-size="6.90" fill="#e8b83a" text-anchor="middle">66</text>
<text x="67.97" y="481.98" font-size="6.90" fill="#e8b83a" text-anchor="middle">22</text>
<text x="98.55" y="481.98" font-size="6.90" fill="#e8b83a" text-anchor="middle">7</text>
<text x="129.12" y="481.98" font-size="6.90" fill="#e8b83a" text-anchor="middle">4</text>
<text x="159.70" y="481.98" font-size="6.90" fill="#e8b83a" text-anchor="middle">1</text>
<text x="198.40" y="450.79" font-size="7.50" fill="#111">Number at risk</text>
<line x1="191.30" y1="464.30" x2="194.70" y2="464.30" stroke="#90742a" stroke-width="1.40"/>
<text x="204.20" y="466.68" font-size="6.90" fill="#90742a" text-anchor="middle">73</text>
<text x="234.65" y="466.68" font-size="6.90" fill="#90742a" text-anchor="middle">19</text>
<text x="265.10" y="466.68" font-size="6.90" fill="#90742a" text-anchor="middle">4</text>
<text x="295.55" y="466.68" font-size="6.90" fill="#90742a" text-anchor="middle">2</text>
<text x="326.00" y="466.68" font-size="6.90" fill="#90742a" text-anchor="middle">0</text>
<line x1="191.30" y1="479.60" x2="194.70" y2="479.60" stroke="#ecb72c" stroke-width="1.40"/>
<text x="204.20" y="481.98" font-size="6.90" fill="#e8b83a" text-anchor="middle">116</text>
<text x="234.65" y="481.98" font-size="6.90" fill="#e8b83a" text-anchor="middle">29</text>
<text x="265.10" y="481.98" font-size="6.90" fill="#e8b83a" text-anchor="middle">9</text>
<text x="295.55" y="481.98" font-size="6.90" fill="#e8b83a" text-anchor="middle">5</text>
<text x="326.00" y="481.98" font-size="6.90" fill="#e8b83a" text-anchor="middle">2</text>
<text x="370.70" y="450.79" font-size="7.50" fill="#111">Number at risk</text>
<line x1="363.90" y1="464.30" x2="367.20" y2="464.30" stroke="#90742a" stroke-width="1.40"/>
<text x="377.10" y="466.68" font-size="6.90" fill="#90742a" text-anchor="middle">57</text>
<text x="407.53" y="466.68" font-size="6.90" fill="#90742a" text-anchor="middle">13</text>
<text x="437.95" y="466.68" font-size="6.90" fill="#90742a" text-anchor="middle">4</text>
<text x="468.38" y="466.68" font-size="6.90" fill="#90742a" text-anchor="middle">1</text>
<text x="498.80" y="466.68" font-size="6.90" fill="#90742a" text-anchor="middle">0</text>
<line x1="363.90" y1="479.60" x2="367.20" y2="479.60" stroke="#ecb72c" stroke-width="1.40"/>
<text x="377.10" y="481.98" font-size="6.90" fill="#e8b83a" text-anchor="middle">73</text>
<text x="407.53" y="481.98" font-size="6.90" fill="#e8b83a" text-anchor="middle">23</text>
<text x="437.95" y="481.98" font-size="6.90" fill="#e8b83a" text-anchor="middle">5</text>
<text x="468.38" y="481.98" font-size="6.90" fill="#e8b83a" text-anchor="middle">2</text>
<text x="498.80" y="481.98" font-size="6.90" fill="#e8b83a" text-anchor="middle">2</text>
<text x="538.90" y="452.29" font-size="7.50" fill="#111">Number at risk</text>
<line x1="531.80" y1="466.40" x2="535.20" y2="466.40" stroke="#90742a" stroke-width="1.40"/>
<text x="544.80" y="468.78" font-size="6.90" fill="#90742a" text-anchor="middle">44</text>
<text x="575.30" y="468.78" font-size="6.90" fill="#90742a" text-anchor="middle">5</text>
<text x="605.80" y="468.78" font-size="6.90" fill="#90742a" text-anchor="middle">0</text>
<text x="636.30" y="468.78" font-size="6.90" fill="#90742a" text-anchor="middle">0</text>
<text x="666.80" y="468.78" font-size="6.90" fill="#90742a" text-anchor="middle">0</text>
<line x1="531.80" y1="481.60" x2="535.20" y2="481.60" stroke="#ecb72c" stroke-width="1.40"/>
<text x="544.80" y="483.98" font-size="6.90" fill="#e8b83a" text-anchor="middle">42</text>
<text x="575.30" y="483.98" font-size="6.90" fill="#e8b83a" text-anchor="middle">8</text>
<text x="605.80" y="483.98" font-size="6.90" fill="#e8b83a" text-anchor="middle">1</text>
<text x="636.30" y="483.98" font-size="6.90" fill="#e8b83a" text-anchor="middle">1</text>
<text x="666.80" y="483.98" font-size="6.90" fill="#e8b83a" text-anchor="middle">1</text>
<rect x="19.20" y="599.20" width="665.80" height="57.40" fill="#f0f0f0"/>
<rect x="19.20" y="713.30" width="665.80" height="57.30" fill="#f0f0f0"/>
<line x1="274.50" y1="542.80" x2="274.50" y2="770.60" stroke="#d2d2d2" stroke-width="0.60" stroke-dasharray="1.6 1.3"/>
<line x1="496.90" y1="542.80" x2="496.90" y2="770.60" stroke="#d2d2d2" stroke-width="0.60" stroke-dasharray="1.6 1.3"/>
<line x1="274.50" y1="542.80" x2="496.90" y2="542.80" stroke="#d2d2d2" stroke-width="0.60" stroke-dasharray="1.6 1.3"/>
<line x1="361.70" y1="543.60" x2="361.70" y2="770.60" stroke="#d6d6d6" stroke-width="0.70"/>
<text x="36.20" y="527.86" font-size="13.50" fill="#000" font-weight="bold">Group</text>
<text x="167.40" y="521.95" font-size="12.60" fill="#000" font-weight="bold" text-anchor="middle">Simpson 3</text>
<text x="167.40" y="537.25" font-size="12.60" fill="#000" font-weight="bold" text-anchor="middle">Events/N</text>
<text x="248.80" y="521.95" font-size="12.60" fill="#000" font-weight="bold" text-anchor="middle">Simpson 1/2</text>
<text x="248.80" y="537.25" font-size="12.60" fill="#000" font-weight="bold" text-anchor="middle">Events/N</text>
<text x="320.00" y="528.22" font-size="15.70" fill="#000" font-weight="bold" textLength="127.00" lengthAdjust="spacingAndGlyphs">Simpson 3 vs 1/2</text>
<text x="546.40" y="527.83" font-size="14.00" fill="#000" font-weight="bold" textLength="81.10" lengthAdjust="spacingAndGlyphs">HR (95% CI)</text>
<text x="36.40" y="573.83" font-size="14.00" fill="#c2382e" font-weight="bold" stroke="#c2382e" stroke-width="0.30" stroke-linejoin="round" textLength="92.60" lengthAdjust="spacingAndGlyphs">Immunogenic</text>
<text x="174.00" y="573.76" font-size="13.80" fill="#000" text-anchor="middle">3/22</text>
<text x="246.40" y="573.76" font-size="13.80" fill="#000" text-anchor="middle">4/87</text>
<text x="533.00" y="574.16" font-size="14.10" fill="#000">5.88 (0.96-36.16)</text>
<line x1="360.29" y1="571.00" x2="485.93" y2="571.00" stroke="#c2382e" stroke-width="1.25"/>
<line x1="360.29" y1="565.20" x2="360.29" y2="576.80" stroke="#c2382e" stroke-width="1.25"/>
<line x1="485.93" y1="565.20" x2="485.93" y2="576.80" stroke="#c2382e" stroke-width="1.25"/>
<rect x="420.04" y="568.00" width="6.00" height="6.00" fill="#c2382e"/>
<text x="36.40" y="631.03" font-size="14.00" fill="#1a74b4" font-weight="bold" stroke="#1a74b4" stroke-width="0.30" stroke-linejoin="round" textLength="48.00" lengthAdjust="spacingAndGlyphs">NF2-wt</text>
<text x="173.60" y="630.96" font-size="13.80" fill="#000" text-anchor="middle">13/54</text>
<text x="250.10" y="630.96" font-size="13.80" fill="#000" text-anchor="middle">15/149</text>
<text x="533.00" y="631.36" font-size="14.10" fill="#000" font-weight="bold" font-style="italic">3.32 (1.42-7.74)</text>
<line x1="373.84" y1="628.20" x2="432.56" y2="628.20" stroke="#1a74b4" stroke-width="1.25"/>
<line x1="373.84" y1="622.40" x2="373.84" y2="634.00" stroke="#1a74b4" stroke-width="1.25"/>
<line x1="432.56" y1="622.40" x2="432.56" y2="634.00" stroke="#1a74b4" stroke-width="1.25"/>
<rect x="399.10" y="624.05" width="8.30" height="8.30" fill="#1a74b4"/>
<text x="36.40" y="688.13" font-size="14.00" fill="#149a62" font-weight="bold" stroke="#149a62" stroke-width="0.30" stroke-linejoin="round" textLength="107.20" lengthAdjust="spacingAndGlyphs">Hypermetabolic</text>
<text x="173.60" y="688.06" font-size="13.80" fill="#000" text-anchor="middle">13/32</text>
<text x="249.90" y="688.06" font-size="13.80" fill="#000" text-anchor="middle">48/116</text>
<text x="533.00" y="688.46" font-size="14.10" fill="#000">1.23 (0.60-2.49)</text>
<line x1="344.01" y1="685.20" x2="393.29" y2="685.20" stroke="#149a62" stroke-width="1.25"/>
<line x1="344.01" y1="679.40" x2="344.01" y2="691.00" stroke="#149a62" stroke-width="1.25"/>
<line x1="393.29" y1="679.40" x2="393.29" y2="691.00" stroke="#149a62" stroke-width="1.25"/>
<rect x="364.27" y="680.60" width="9.20" height="9.20" fill="#149a62"/>
<text x="36.40" y="745.13" font-size="14.00" fill="#e78a39" font-weight="bold" stroke="#e78a39" stroke-width="0.30" stroke-linejoin="round" textLength="82.00" lengthAdjust="spacingAndGlyphs">Proliferative</text>
<text x="173.60" y="745.06" font-size="13.80" fill="#000" text-anchor="middle">14/20</text>
<text x="245.70" y="745.06" font-size="13.80" fill="#000" text-anchor="middle">58/79</text>
<text x="533.00" y="745.46" font-size="14.10" fill="#000">1.37 (0.71-2.66)</text>
<line x1="349.84" y1="742.10" x2="395.57" y2="742.10" stroke="#e78a39" stroke-width="1.25"/>
<line x1="349.84" y1="736.30" x2="349.84" y2="747.90" stroke="#e78a39" stroke-width="1.25"/>
<line x1="395.57" y1="736.30" x2="395.57" y2="747.90" stroke="#e78a39" stroke-width="1.25"/>
<rect x="367.30" y="736.80" width="10.60" height="10.60" fill="#e78a39"/>
<rect x="19.20" y="874.60" width="665.80" height="57.70" fill="#f0f0f0"/>
<rect x="19.20" y="988.80" width="665.80" height="57.20" fill="#f0f0f0"/>
<line x1="274.50" y1="818.20" x2="274.50" y2="1051.50" stroke="#d2d2d2" stroke-width="0.60" stroke-dasharray="1.6 1.3"/>
<line x1="496.90" y1="818.20" x2="496.90" y2="1051.50" stroke="#d2d2d2" stroke-width="0.60" stroke-dasharray="1.6 1.3"/>
<line x1="274.50" y1="818.20" x2="496.90" y2="818.20" stroke="#d2d2d2" stroke-width="0.60" stroke-dasharray="1.6 1.3"/>
<line x1="361.70" y1="819.00" x2="361.70" y2="1051.50" stroke="#d6d6d6" stroke-width="0.70"/>
<text x="38.10" y="811.86" font-size="13.50" fill="#000" font-weight="bold">Group</text>
<text x="171.50" y="806.35" font-size="12.60" fill="#000" font-weight="bold" text-anchor="middle">Simpson 2</text>
<text x="171.50" y="821.95" font-size="12.60" fill="#000" font-weight="bold" text-anchor="middle">Events/N</text>
<text x="247.40" y="806.35" font-size="12.60" fill="#000" font-weight="bold" text-anchor="middle">Simpson 1</text>
<text x="247.40" y="821.95" font-size="12.60" fill="#000" font-weight="bold" text-anchor="middle">Events/N</text>
<text x="320.00" y="809.22" font-size="15.70" fill="#000" font-weight="bold" textLength="112.60" lengthAdjust="spacingAndGlyphs">Simpson 2 vs 1</text>
<text x="547.20" y="806.83" font-size="14.00" fill="#000" font-weight="bold" textLength="82.50" lengthAdjust="spacingAndGlyphs">HR (95% CI)</text>
<text x="36.40" y="849.23" font-size="14.00" fill="#c2382e" font-weight="bold" stroke="#c2382e" stroke-width="0.30" stroke-linejoin="round" textLength="92.60" lengthAdjust="spacingAndGlyphs">Immunogenic</text>
<text x="174.10" y="849.16" font-size="13.80" fill="#000" text-anchor="middle">2/52</text>
<text x="246.80" y="849.16" font-size="13.80" fill="#000" text-anchor="middle">2/35</text>
<text x="533.00" y="849.56" font-size="14.10" fill="#000">0.91 (0.08-10.20)</text>
<line x1="274.60" y1="846.30" x2="442.11" y2="846.30" stroke="#c2382e" stroke-width="1.25"/>
<line x1="274.60" y1="840.50" x2="274.60" y2="852.10" stroke="#c2382e" stroke-width="1.25"/>
<line x1="442.11" y1="840.50" x2="442.11" y2="852.10" stroke="#c2382e" stroke-width="1.25"/>
<rect x="356.13" y="844.00" width="4.60" height="4.60" fill="#c2382e"/>
<text x="36.40" y="905.83" font-size="14.00" fill="#1a74b4" font-weight="bold" stroke="#1a74b4" stroke-width="0.30" stroke-linejoin="round" textLength="48.00" lengthAdjust="spacingAndGlyphs">NF2-wt</text>
<text x="174.10" y="905.76" font-size="13.80" fill="#000" text-anchor="middle">9/92</text>
<text x="246.80" y="905.76" font-size="13.80" fill="#000" text-anchor="middle">6/57</text>
<text x="533.00" y="906.16" font-size="14.10" fill="#000">1.36 (0.36-5.19)</text>
<line x1="326.33" y1="903.10" x2="418.72" y2="903.10" stroke="#1a74b4" stroke-width="1.25"/>
<line x1="326.33" y1="897.30" x2="326.33" y2="908.90" stroke="#1a74b4" stroke-width="1.25"/>
<line x1="418.72" y1="897.30" x2="418.72" y2="908.90" stroke="#1a74b4" stroke-width="1.25"/>
<rect x="369.25" y="900.00" width="6.20" height="6.20" fill="#1a74b4"/>
<text x="36.40" y="963.23" font-size="14.00" fill="#149a62" font-weight="bold" stroke="#149a62" stroke-width="0.30" stroke-linejoin="round" textLength="107.20" lengthAdjust="spacingAndGlyphs">Hypermetabolic</text>
<text x="173.50" y="963.16" font-size="13.80" fill="#000" text-anchor="middle">30/66</text>
<text x="246.00" y="963.16" font-size="13.80" fill="#000" text-anchor="middle">18/40</text>
<text x="533.00" y="963.56" font-size="14.10" fill="#000">0.97 (0.47-2.03)</text>
<line x1="335.56" y1="960.20" x2="386.22" y2="960.20" stroke="#149a62" stroke-width="1.25"/>
<line x1="335.56" y1="954.40" x2="335.56" y2="966.00" stroke="#149a62" stroke-width="1.25"/>
<line x1="386.22" y1="954.40" x2="386.22" y2="966.00" stroke="#149a62" stroke-width="1.25"/>
<rect x="356.05" y="955.60" width="9.20" height="9.20" fill="#149a62"/>
<text x="36.40" y="1020.53" font-size="14.00" fill="#e78a39" font-weight="bold" stroke="#e78a39" stroke-width="0.30" stroke-linejoin="round" textLength="82.00" lengthAdjust="spacingAndGlyphs">Proliferative</text>
<text x="173.50" y="1020.46" font-size="13.80" fill="#000" text-anchor="middle">30/39</text>
<text x="246.00" y="1020.46" font-size="13.80" fill="#000" text-anchor="middle">28/40</text>
<text x="533.00" y="1020.86" font-size="14.10" fill="#000">0.85 (0.45-1.56)</text>
<line x1="334.05" y1="1017.70" x2="377.10" y2="1017.70" stroke="#e78a39" stroke-width="1.25"/>
<line x1="334.05" y1="1011.90" x2="334.05" y2="1023.50" stroke="#e78a39" stroke-width="1.25"/>
<line x1="377.10" y1="1011.90" x2="377.10" y2="1023.50" stroke="#e78a39" stroke-width="1.25"/>
<rect x="350.77" y="1012.40" width="10.60" height="10.60" fill="#e78a39"/>
<line x1="289.70" y1="1051.50" x2="496.90" y2="1051.50" stroke="#333" stroke-width="0.90"/>
<line x1="289.70" y1="1051.50" x2="289.70" y2="1055.00" stroke="#333" stroke-width="0.90"/>
<text x="289.70" y="1064.11" font-size="9.00" fill="#000" text-anchor="middle">0.12</text>
<line x1="313.70" y1="1051.50" x2="313.70" y2="1055.00" stroke="#333" stroke-width="0.90"/>
<text x="313.70" y="1064.11" font-size="9.00" fill="#000" text-anchor="middle">0.25</text>
<line x1="337.70" y1="1051.50" x2="337.70" y2="1055.00" stroke="#333" stroke-width="0.90"/>
<text x="337.70" y="1064.11" font-size="9.00" fill="#000" text-anchor="middle">0.50</text>
<line x1="361.70" y1="1051.50" x2="361.70" y2="1055.00" stroke="#333" stroke-width="0.90"/>
<text x="361.70" y="1064.11" font-size="9.00" fill="#000" text-anchor="middle">1.0</text>
<line x1="385.70" y1="1051.50" x2="385.70" y2="1055.00" stroke="#333" stroke-width="0.90"/>
<text x="385.70" y="1064.11" font-size="9.00" fill="#000" text-anchor="middle">2.0</text>
<line x1="409.70" y1="1051.50" x2="409.70" y2="1055.00" stroke="#333" stroke-width="0.90"/>
<text x="409.70" y="1064.11" font-size="9.00" fill="#000" text-anchor="middle">4.0</text>
<line x1="496.90" y1="1051.50" x2="496.90" y2="1055.00" stroke="#333" stroke-width="0.90"/>
<text x="496.90" y="1064.11" font-size="9.00" fill="#000" text-anchor="middle">50.0</text>
</svg>
</body></html>
